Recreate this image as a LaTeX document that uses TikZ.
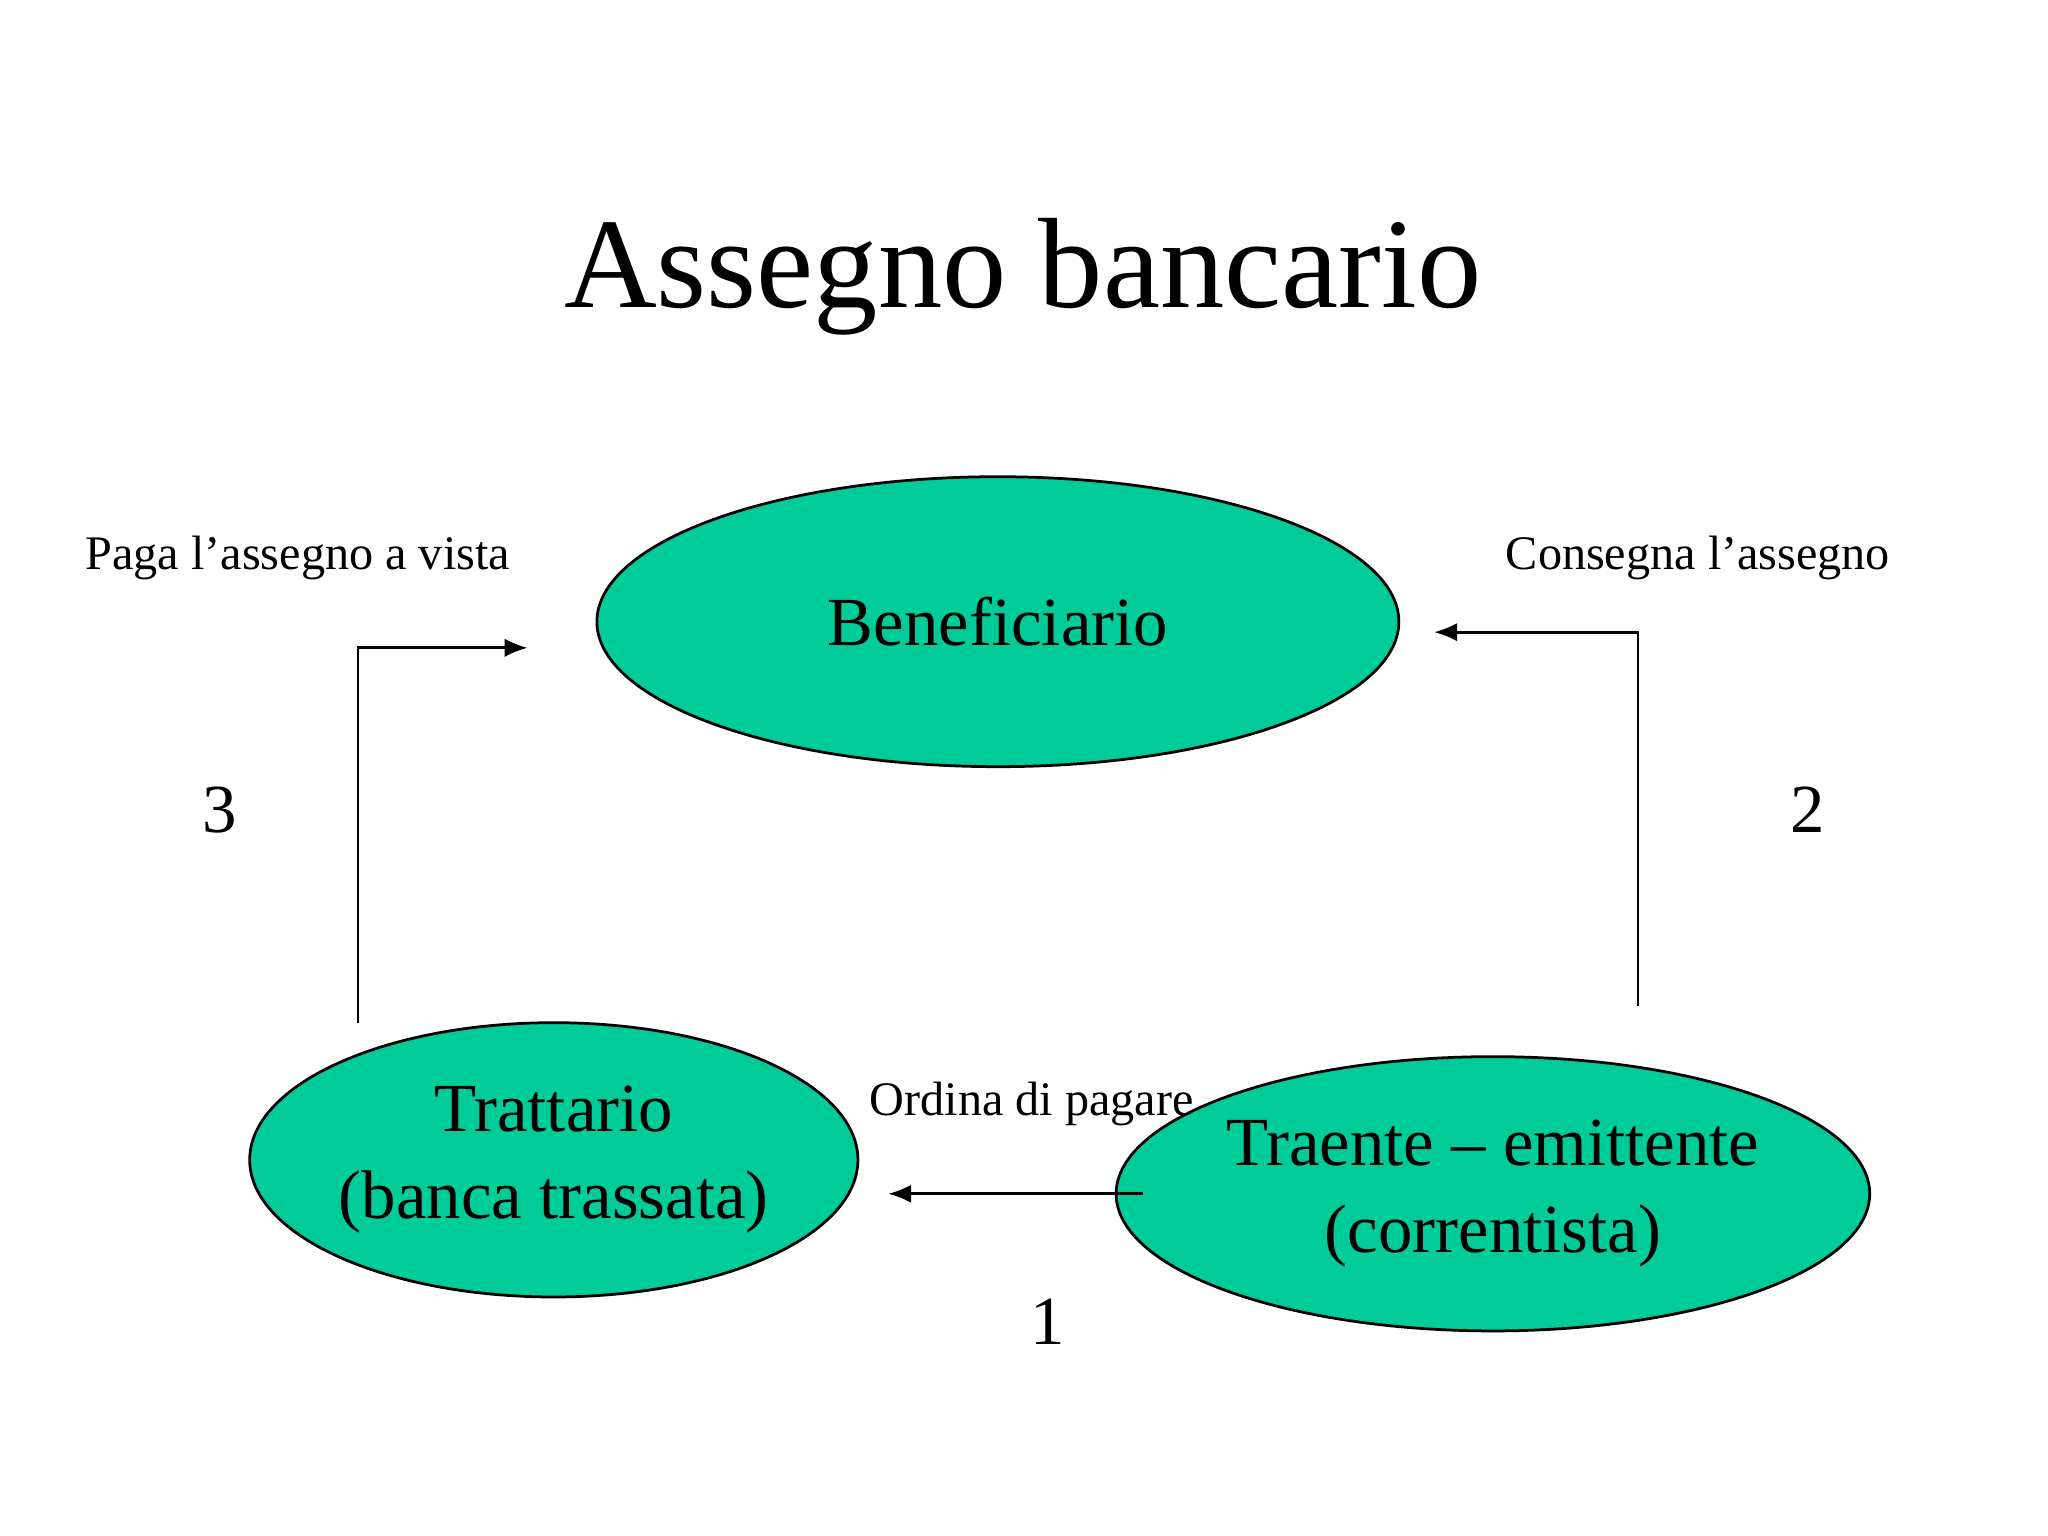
\documentclass[tikz,border=0pt]{standalone}
\usepackage{fontspec}
\setmainfont{Liberation Serif}
\usetikzlibrary{shapes.geometric,arrows.meta}
\definecolor{ovgreen}{HTML}{00CC99}
\begin{document}
\begin{tikzpicture}[
  oval/.style={ellipse,draw=black,line width=0.6pt,fill=ovgreen,inner sep=0pt,align=center,font=\fontsize{24}{27}\selectfont},
  lbl/.style={font=\fontsize{10.5}{12}\selectfont},
  num/.style={font=\fontsize{15}{18}\selectfont},
  conn/.style={line width=0.6pt,-{Latex[length=5pt,width=4pt]}}
]
\useasboundingbox (0,0) rectangle (15.68,-11.76);
\node[font=\fontsize{28}{32}\selectfont] (title) at (7.83,-2.12) {Assegno bancario};
\node[oval,minimum width=6.14cm,minimum height=2.22cm,font=\fontsize{15}{18}\selectfont] (ben) at (7.64,-4.76) {Beneficiario};
\node[oval,minimum width=4.58cm,minimum height=2.10cm,font=\fontsize{15}{19}\selectfont] (tra) at (4.24,-8.88) {Trattario\\(banca trassata)};
\node[oval,minimum width=4.58cm,minimum height=2.10cm,font=\fontsize{15}{19}\selectfont] (tre) at (11.43,-9.14) {Traente -- emittente\\(correntista)};
\node[lbl] (l3) at (2.28,-4.27) {Paga l’assegno a vista};
\node[lbl] (l2) at (13.00,-4.27) {Consegna l’assegno};
\node[lbl] (l1) at (7.90,-8.45) {Ordina di pagare};
\node[num] (n3) at (1.68,-6.20) {3};
\node[num] (n2) at (13.84,-6.20) {2};
\node[num] (n1) at (8.02,-10.12) {1};
\coordinate (a3s) at (2.74,-7.83);
\coordinate (a3c) at (2.74,-4.96);
\coordinate (a3e) at (4.04,-4.96);
\coordinate (a2s) at (12.54,-7.70);
\coordinate (a2c) at (12.54,-4.84);
\coordinate (a2e) at (10.98,-4.84);
\coordinate (a1s) at (8.75,-9.14);
\coordinate (a1e) at (6.80,-9.14);
\draw[conn] (a3s) -- (a3c) -- (a3e);
\draw[conn] (a2s) -- (a2c) -- (a2e);
\draw[conn] (a1s) -- (a1e);
\end{tikzpicture}
\end{document}
